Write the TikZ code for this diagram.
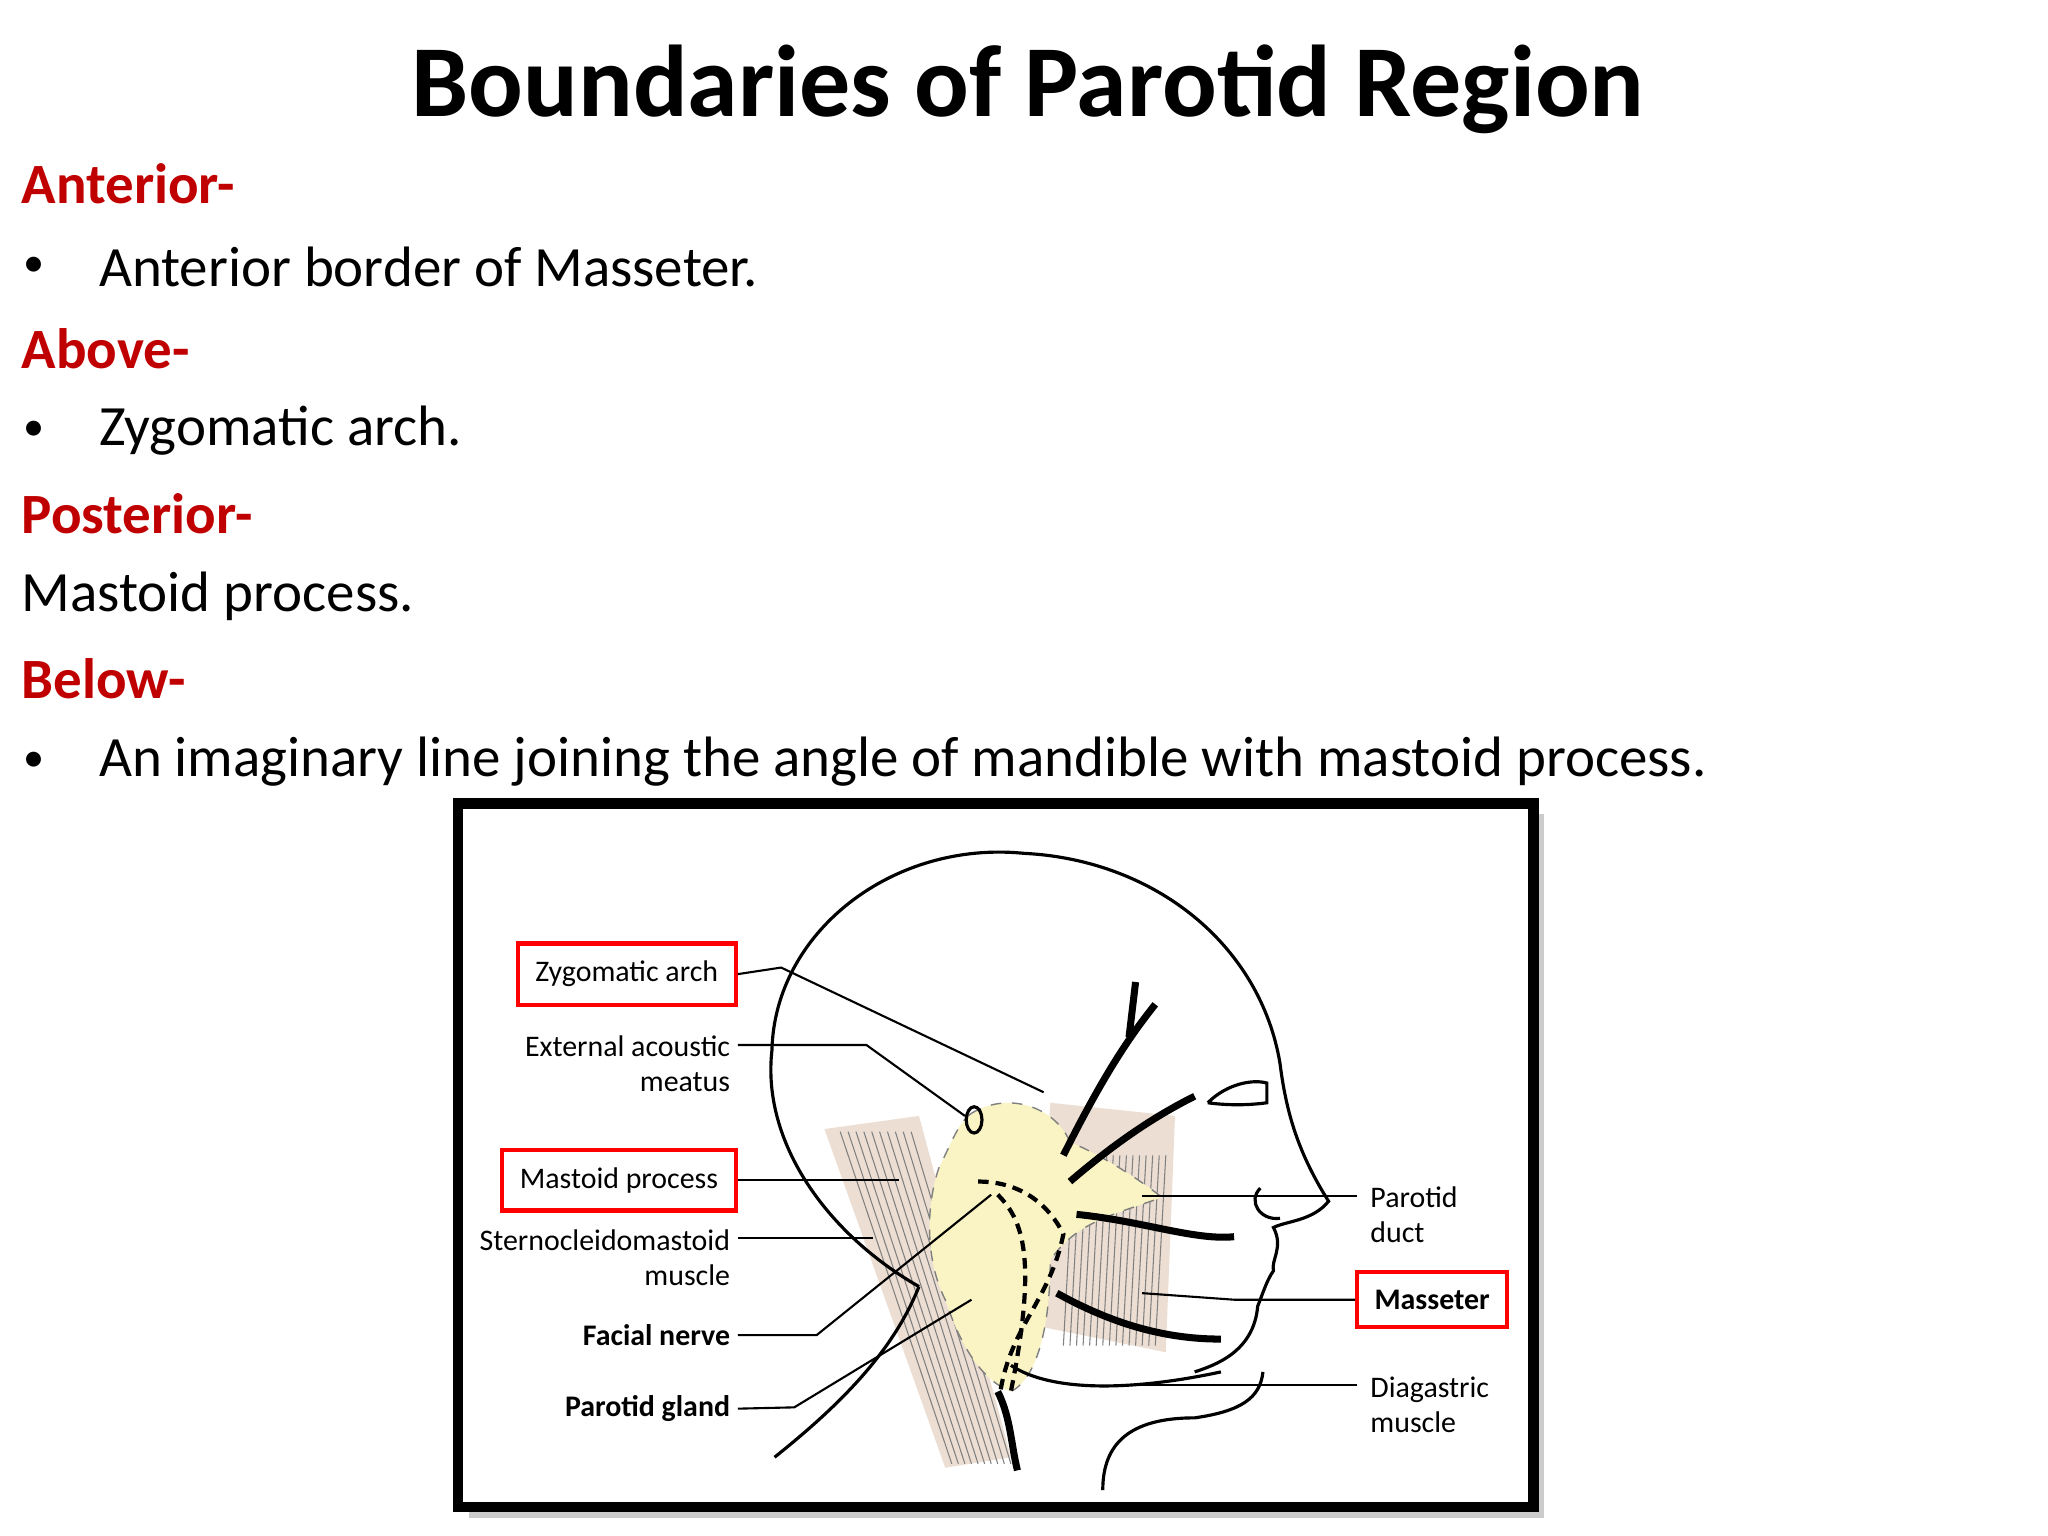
\documentclass[tikz,border=0pt]{standalone}
\usepackage{fontspec}
\setmainfont{Carlito}
\usetikzlibrary{shadows}
\definecolor{hred}{RGB}{192,0,0}
\definecolor{gland}{RGB}{250,244,196}
\definecolor{musc}{RGB}{236,222,210}
\begin{document}
\begin{tikzpicture}[x=0.013128cm,y=-0.013128cm,
 hd/.style={anchor=west,text=hred,font=\fontsize{16.2}{18}\selectfont\bfseries,inner sep=0pt},
 bl/.style={anchor=west,font=\fontsize{16.2}{18}\selectfont,inner sep=0pt},
 lab/.style={font=\fontsize{8.5}{10}\selectfont,align=right,anchor=east,inner sep=2pt},
 labl/.style={font=\fontsize{8.5}{10}\selectfont,align=left,anchor=west,inner sep=2pt},
 box/.style={draw=red,line width=1.2pt,inner sep=5pt},
 ln/.style={line width=0.6pt},
 ol/.style={line width=0.9pt}]
\useasboundingbox (0,0) rectangle (1560,1170);
\node[font=\fontsize{29}{32}\selectfont\bfseries] (title) at (783,68) {Boundaries of Parotid Region};
\node[hd] (h1) at (16,140) {Anterior-};
\node[bl,font=\fontsize{12}{14}\selectfont] (d1) at (17,203) {•};
\node[bl] (b1) at (75,203) {Anterior border of Masseter.};
\node[hd] (h2) at (16,266) {Above-};
\node[bl,font=\fontsize{12}{14}\selectfont] (d2) at (17,328) {•};
\node[bl] (b2) at (75,328) {Zygomatic arch.};
\node[hd] (h3) at (16,391) {Posterior-};
\node[bl] (b3) at (16,454) {Mastoid process.};
\node[hd] (h4) at (16,517) {Below-};
\node[bl,font=\fontsize{12}{14}\selectfont] (d4) at (17,580) {•};
\node[bl] (b4) at (75,580) {An imaginary line joining the angle of mandible with mastoid process.};
% frame
\draw[line width=3pt,fill=white,drop shadow={shadow xshift=3pt,shadow yshift=-3pt,opacity=0.4}] (349,612) rectangle (1168,1148);
% SCM
\fill[musc] (628,860) -- (700,850) -- (770,1110) -- (720,1118) -- cycle;
\foreach \i in {0,...,9}{\draw[line width=0.3pt,gray] (640+6*\i,862) -- (725+5*\i,1115);}
% masseter
\fill[musc] (800,840) -- (895,850) -- (888,1030) -- (790,1010) -- cycle;
\foreach \i in {0,...,14}{\draw[line width=0.3pt,gray] (818+5*\i,880) -- (810+5*\i,1025);}
% gland
\fill[gland,draw=gray,line width=0.4pt,dashed] (740,848) .. controls (770,830) and (805,845) .. (815,870) .. controls (840,880) and (870,900) .. (885,912) .. controls (850,925) and (820,930) .. (800,960) .. controls (800,1010) and (790,1050) .. (770,1060) .. controls (745,1050) and (730,1020) .. (720,990) .. controls (705,960) and (705,920) .. (715,890) .. controls (725,870) and (730,855) .. (740,848);
\draw[line width=1.2pt,dash pattern=on 3pt off 2pt] (745,900) .. controls (780,900) and (800,920) .. (810,940) .. controls (800,990) and (770,1010) .. (762,1060);
\draw[line width=1.2pt,dash pattern=on 3pt off 2pt] (760,910) .. controls (780,930) and (790,960) .. (770,1060);
% head outline
\draw[ol] (700,980) .. controls (630,940) and (580,870) .. (588,800) .. controls (590,710) and (680,640) .. (780,650) .. controls (880,655) and (960,720) .. (975,810) .. controls (980,850) and (990,880) .. (1012,915) .. controls (1000,930) and (980,930) .. (970,935) .. controls (978,950) and (968,960) .. (970,968) .. controls (965,975) and (962,985) .. (958,995) .. controls (955,1030) and (925,1040) .. (910,1045);
\draw[ol] (590,1110) .. controls (640,1070) and (680,1030) .. (700,980);
\draw[ol] (840,1135) .. controls (840,1100) and (860,1080) .. (910,1080) .. controls (945,1075) and (960,1065) .. (962,1045);
\draw[ol] (770,1040) .. controls (800,1060) and (860,1060) .. (930,1045);
% ear, eye, nose
\draw[ol] (742,853) ellipse (6 and 10);
\draw[ol] (920,840) .. controls (935,825) and (955,822) .. (965,825) -- (965,840) .. controls (950,842) and (935,842) .. (920,840);
\draw[ol] (960,905) .. controls (950,915) and (960,930) .. (975,928);
% nerves
\draw[line width=2pt] (810,880) .. controls (840,820) and (860,790) .. (880,765);
\draw[line width=2pt] (860,790) -- (865,748);
\draw[line width=2pt] (815,900) .. controls (850,870) and (880,850) .. (910,835);
\draw[line width=2pt] (820,925) .. controls (870,930) and (910,945) .. (940,942);
\draw[line width=2pt] (805,985) .. controls (850,1010) and (890,1020) .. (930,1020);
\draw[line width=2pt] (760,1060) .. controls (770,1080) and (770,1100) .. (775,1120);
% labels
\node[lab,box] (za) at (562,742) {Zygomatic arch};
\node[lab] (eam) at (562,810) {External acoustic\\meatus};
\node[lab,box] (mp) at (562,899) {Mastoid process};
\node[lab] (scm) at (562,958) {Sternocleidomastoid\\muscle};
\node[lab] (fn) at (562,1017) {\bfseries Facial nerve};
\node[lab] (pg) at (562,1073) {\bfseries Parotid gland};
\node[labl] (pd) at (1038,925) {Parotid\\duct};
\node[labl,box] (ms) at (1032,990) {\bfseries Masseter};
\node[labl] (dm) at (1038,1070) {Diagastric\\muscle};
\coordinate (za1) at (795,832);
\coordinate (eam1) at (735,850);
\coordinate (mp1) at (685,899);
\coordinate (scm1) at (665,943);
\coordinate (fn1) at (755,910);
\coordinate (pg1) at (740,990);
\coordinate (pd1) at (870,911);
\coordinate (ms1) at (870,985);
\coordinate (dm1) at (860,1055);
\draw[ln] (za.east) -- (595,737) -- (za1);
\draw[ln] (562,796) -- (660,796) -- (eam1);
\draw[ln] (mp.east) -- (mp1);
\draw[ln] (562,943) -- (scm1);
\draw[ln] (fn.east) -- (622,1017) -- (fn1);
\draw[ln] (pg.east) -- (605,1072) -- (pg1);
\draw[ln] (1034,911) -- (pd1);
\draw[ln] (ms.west) -- (940,990) -- (ms1);
\draw[ln] (1034,1055) -- (dm1);
\end{tikzpicture}
\end{document}
